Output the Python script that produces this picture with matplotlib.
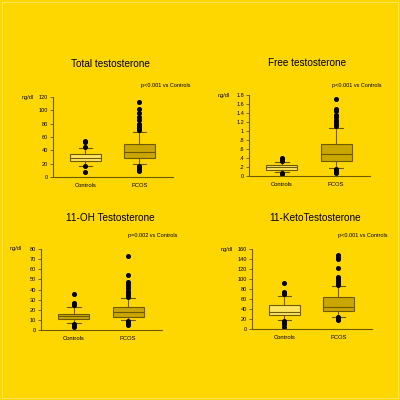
"""Four box plots: testosterone measures, Controls vs PCOS."""

import matplotlib

matplotlib.use("Agg")
import matplotlib.pyplot as plt
from matplotlib.patches import Rectangle

plt.rcParams["font.family"] = ["Liberation Sans", "DejaVu Sans"]

BG = "#FFD700"
LINE = "#6E5A00"
CTRL_FACE = "#FFE45E"
PCOS_FACE = "#C9A600"

groups = ["Controls", "PCOS"]

titles = ["Total testosterone", "Free testosterone", "11-OH Testosterone", "11-KetoTestosterone"]
pvalues = ["p<0.001 vs Controls", "p<0.001 vs Controls", "p=0.002 vs Controls", "p<0.001 vs Controls"]
units = ["ng/dl", "ng/dl", "ng/dl", "ng/dl"]
yticks = [
    [0, 20, 40, 60, 80, 100, 120],
    [0, 0.2, 0.4, 0.6, 0.8, 1.0, 1.2, 1.4, 1.6, 1.8],
    [0, 10, 20, 30, 40, 50, 60, 70, 80],
    [0, 20, 40, 60, 80, 100, 120, 140, 160],
]
ytick_labels = [
    ["0", "20", "40", "60", "80", "100", "120"],
    ["0", ".2", ".4", ".6", ".8", "1", "1.2", "1.4", "1.6", "1.8"],
    ["0", "10", "20", "30", "40", "50", "60", "70", "80"],
    ["0", "20", "40", "60", "80", "100", "120", "140", "160"],
]

# box summaries per panel: (q1, median, q3, whisker low, whisker high)
ctrl_box = [
    (24, 29, 34, 17, 43),
    (0.13, 0.19, 0.25, 0.08, 0.30),
    (11, 13.5, 16, 7, 23),
    (28, 34, 48, 19, 67),
]
pcos_box = [
    (28, 37, 49, 19, 68),
    (0.34, 0.48, 0.71, 0.18, 1.07),
    (13, 17.5, 23, 10, 32),
    (36, 44, 64, 25, 86),
]
ctrl_fliers = [
    [8, 17, 45, 52, 54],
    [0.04, 0.06, 0.33, 0.35, 0.37, 0.39],
    [3, 4, 5, 6, 25, 26, 27, 36],
    [5, 10, 14, 17, 70, 72, 74, 92],
]
pcos_fliers = [
    [9, 10, 11, 12, 13, 15, 17, 70, 72, 74, 76, 78, 80, 85, 90, 96, 102, 112],
    [0.06, 0.08, 0.10, 0.12, 0.15, 1.10, 1.15, 1.20, 1.25, 1.30, 1.35, 1.45, 1.48, 1.72],
    [5, 6, 7, 8, 9, 33, 35, 37, 39, 41, 43, 45, 47, 54, 73],
    [18, 20, 22, 24, 88, 92, 96, 100, 104, 122, 140, 145, 148],
]
ctrl_faces = [CTRL_FACE, CTRL_FACE, PCOS_FACE, CTRL_FACE]

# axes rectangles in pixels: left, right, top, bottom (from top of image)
AXES_PX = [
    (53, 173, 97, 177),
    (249, 370, 95, 176),
    (41, 162, 249, 330),
    (252, 372, 249, 329),
]
TITLE_XY = [(110, 64), (307, 63), (110, 218), (315, 218)]
PVAL_XY = [(166, 85), (357, 86), (153, 236), (363, 236)]


def stats(box, fliers, label):
    q1, med, q3, lo, hi = box
    return {"label": label, "q1": q1, "med": med, "q3": q3,
            "whislo": lo, "whishi": hi, "fliers": fliers}


def main() -> None:
    fig = plt.figure(figsize=(4, 4), dpi=100, facecolor=BG)
    fig.patches.append(Rectangle((0.005, 0.005), 0.99, 0.99, transform=fig.transFigure,
                                 fill=False, edgecolor="#FFE866", lw=0.6))

    for i in range(4):
        l, r, t, b = AXES_PX[i]
        ax = fig.add_axes([l / 400, 1 - b / 400, (r - l) / 400, (b - t) / 400])
        ax.set_facecolor(BG)
        data = [stats(ctrl_box[i], ctrl_fliers[i], groups[0]),
                stats(pcos_box[i], pcos_fliers[i], groups[1])]
        bp = ax.bxp(data, positions=[1, 2], widths=0.57, capwidths=0.25,
                    patch_artist=True,
                    boxprops={"edgecolor": LINE, "linewidth": 0.8},
                    medianprops={"color": LINE, "linewidth": 0.8},
                    whiskerprops={"color": LINE, "linewidth": 0.8},
                    capprops={"color": LINE, "linewidth": 0.8},
                    flierprops={"marker": "o", "markersize": 2.6,
                                "markerfacecolor": "black", "markeredgecolor": "black"})
        bp["boxes"][0].set_facecolor(ctrl_faces[i])
        bp["boxes"][1].set_facecolor(PCOS_FACE)

        ax.set_xlim(0.4, 2.62)
        ax.set_ylim(yticks[i][0], yticks[i][-1])
        ax.set_yticks(yticks[i])
        ax.set_yticklabels(ytick_labels[i])
        for s in ("top", "right"):
            ax.spines[s].set_visible(False)
        for s in ("left", "bottom"):
            ax.spines[s].set_color(LINE)
            ax.spines[s].set_linewidth(0.8)
        ax.tick_params(axis="y", direction="out", length=2, width=0.6, color=LINE,
                       labelsize=4, pad=1.5)
        ax.tick_params(axis="x", length=0, labelsize=4.2, pad=4)
        ax.set_clip_on(False)
        for artist in ax.get_children():
            artist.set_clip_on(False)

        ax.text(-0.16, 1.0, units[i], transform=ax.transAxes, fontsize=4,
                ha="right", va="center")
        tx, ty = TITLE_XY[i]
        fig.text(tx / 400, 1 - ty / 400, titles[i], fontsize=7.2,
                 ha="center", va="center")
        px, py = PVAL_XY[i]
        fig.text(px / 400, 1 - py / 400, pvalues[i], fontsize=4,
                 ha="center", va="center")

    fig.savefig("out.png", dpi=100, facecolor=BG)
    plt.close(fig)


if __name__ == "__main__":
    main()
